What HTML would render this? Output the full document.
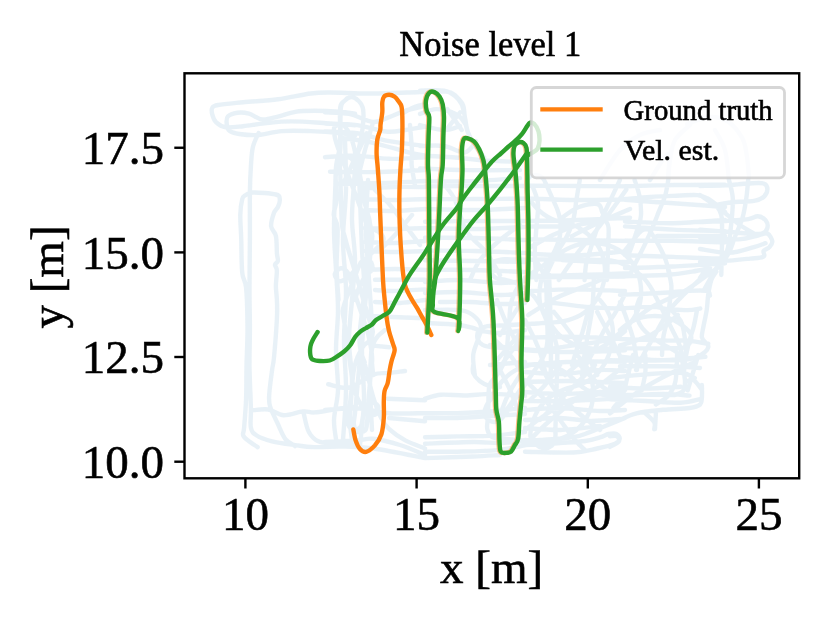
<!DOCTYPE html>
<html><head><meta charset="utf-8"><style>
html,body{margin:0;padding:0;background:#fff;width:830px;height:623px;overflow:hidden}
svg{display:block}
text{font-family:"Liberation Serif","Times New Roman",serif;fill:#000;stroke:#000;stroke-width:0.6px}
</style></head><body>
<svg width="830" height="623" viewBox="0 0 830 623">
<rect width="830" height="623" fill="#fff"/>
<g id="plot">
<path d="M455.2,95.4C453.6,94.8 453.6,92.1 445.6,91.6C437.6,91.1 419.9,92.2 407.0,92.5C394.1,92.8 381.3,93.5 368.5,93.5C355.7,93.5 339.6,92.5 330.0,92.5C320.4,92.5 319.3,92.4 310.6,93.5C301.9,94.6 289.1,97.8 277.9,99.3C266.7,100.8 253.2,101.2 243.2,102.2C233.2,103.2 223.2,104.0 218.1,105.0C212.9,106.0 213.3,106.3 212.3,107.9C211.3,109.5 211.7,112.3 212.3,114.7C213.0,117.1 213.9,120.3 216.2,122.4C218.4,124.5 221.3,126.6 225.8,127.2C230.3,127.8 236.8,126.8 243.2,126.2C249.6,125.6 256.4,124.2 264.4,123.4C272.4,122.6 280.4,121.4 291.3,121.4C302.2,121.4 319.3,122.8 329.9,123.4C340.5,124.1 350.8,125.0 355.0,125.3 M455.2,95.4C456.5,97.0 461.4,101.2 463.0,105.0C464.6,108.8 464.2,114.2 464.9,118.5C465.6,122.8 465.7,126.4 467.3,130.8C468.9,135.2 471.8,140.8 474.6,145.2C477.4,149.6 482.6,155.3 484.2,157.3 M355.0,113.7C352.4,113.4 346.2,112.3 339.5,111.8C332.8,111.3 321.9,110.8 314.5,110.8C307.1,110.8 301.3,110.8 295.2,111.8C289.1,112.8 283.4,115.3 277.9,116.6C272.4,117.9 267.2,120.0 262.4,119.5C257.6,119.0 253.2,114.8 249.0,113.7C244.8,112.6 240.9,112.3 237.4,112.8C233.9,113.3 229.6,114.7 227.8,116.6C226.0,118.5 226.5,121.9 226.8,124.3C227.1,126.7 227.6,129.5 229.7,131.1C231.8,132.7 234.5,133.3 239.3,134.0C244.1,134.7 251.5,135.5 258.6,135.0C265.7,134.5 273.0,131.8 281.7,131.1C290.4,130.4 301.0,130.8 310.6,131.1C320.2,131.4 332.1,132.2 339.5,133.0C346.9,133.8 352.4,135.4 355.0,135.9 M258.6,133.0C257.6,135.4 254.1,141.8 252.8,147.4C251.5,153.0 251.4,159.3 250.9,166.7C250.4,174.1 250.1,179.8 249.9,191.7C249.7,203.5 250.0,221.4 249.9,237.8C249.8,254.2 249.5,274.9 249.5,290.0C249.5,305.1 249.9,315.7 249.9,328.5C249.9,341.3 249.3,353.7 249.5,367.0C249.7,380.3 250.7,398.4 250.9,408.5C251.1,418.6 249.9,423.3 250.9,427.8C251.9,432.3 253.2,433.2 256.7,435.5C260.2,437.8 265.7,439.7 272.1,441.3C278.5,442.9 288.1,444.1 295.2,445.1C302.3,446.1 304.5,446.9 314.5,447.1C324.5,447.3 348.2,446.3 355.0,446.1 M257.6,447.1C256.2,446.1 251.4,443.2 249.0,441.3C246.6,439.4 244.0,437.8 243.2,435.5C242.4,433.2 243.6,433.9 244.1,427.8C244.6,421.7 245.7,409.0 246.1,398.9C246.5,388.8 246.3,378.8 246.5,367.0C246.7,355.2 247.6,341.2 247.5,328.0C247.4,314.8 247.0,297.1 246.1,287.9C245.2,278.6 243.0,280.9 242.2,272.5C241.4,264.1 241.5,247.4 241.2,237.8C240.9,228.2 240.1,221.1 240.3,214.7C240.5,208.3 241.4,202.5 242.2,199.3C243.0,196.1 243.3,196.5 245.1,195.4C246.9,194.3 247.7,192.7 252.8,192.5C257.9,192.3 271.4,193.4 275.9,194.5C280.4,195.6 279.5,197.2 279.8,199.3C280.1,201.4 278.9,204.8 277.9,207.0C276.9,209.2 275.1,209.6 274.0,212.8C272.9,216.0 270.8,222.3 271.1,226.2C271.4,230.0 274.9,231.4 275.9,235.9C276.9,240.4 276.6,249.0 276.9,253.2C277.2,257.4 278.2,259.0 277.9,260.9C277.6,262.8 275.2,263.2 275.0,264.8C274.8,266.4 276.8,267.1 276.9,270.6C277.0,274.1 275.9,281.1 275.9,286.0C275.9,290.9 276.7,294.5 276.9,300.0C277.1,305.5 277.4,309.3 276.9,318.9C276.4,328.5 274.8,348.9 274.0,357.4C273.2,365.9 272.9,363.7 272.1,370.0C271.3,376.3 269.5,388.9 269.2,395.0C268.9,401.1 268.7,401.8 270.1,406.6C271.6,411.4 275.3,418.5 277.9,424.0C280.5,429.5 282.7,435.7 285.6,439.4C288.5,443.1 293.6,445.0 295.2,446.1 M250.9,410.5C253.8,410.3 262.8,408.7 268.2,409.5C273.6,410.3 277.8,415.0 283.6,415.3C289.4,415.6 297.8,411.9 302.9,411.4C308.0,410.9 309.4,412.7 314.5,412.4C319.6,412.1 326.9,410.5 333.7,409.5C340.4,408.5 351.4,407.1 355.0,406.6 M303.9,414.3C304.7,417.2 306.3,427.2 308.7,431.7C311.1,436.2 314.1,439.4 318.3,441.3C322.5,443.2 327.6,442.7 333.7,443.2C339.8,443.7 351.4,444.0 355.0,444.2 M347.2,98.3C346.2,99.4 342.5,101.6 341.4,105.0C340.3,108.4 340.6,111.4 340.5,118.5C340.4,125.6 340.8,140.3 340.5,147.4C340.2,154.5 339.3,156.1 338.5,160.9C337.7,165.7 336.0,169.8 335.7,176.3C335.4,182.8 336.9,193.6 336.6,200.0C336.3,206.4 333.5,210.0 333.7,214.7C333.9,219.4 337.1,219.5 337.6,228.2C338.1,236.9 336.5,254.7 336.6,266.7C336.8,278.7 338.2,294.4 338.5,300.0 M335.4,185.0C335.5,181.7 335.5,171.3 336.2,165.3C336.9,159.3 338.7,154.5 339.4,149.2C340.1,143.8 340.1,140.1 340.2,133.2C340.3,126.2 339.5,112.9 340.2,107.5C340.9,102.1 342.4,102.8 344.3,101.0C346.2,99.2 349.1,97.0 351.5,97.0C353.9,97.0 356.8,99.2 358.7,101.0C360.6,102.8 361.9,104.8 362.7,107.5C363.5,110.2 363.6,112.8 363.5,117.1C363.4,121.4 362.7,127.8 361.9,133.2C361.1,138.5 359.8,143.8 358.7,149.2C357.6,154.5 356.3,159.3 355.5,165.3C354.7,171.3 354.5,175.9 353.9,185.0C353.3,194.1 351.8,207.5 352.0,220.0C352.2,232.5 355.0,246.7 355.0,260.0C355.0,273.3 353.0,286.7 352.0,300.0C351.0,313.3 349.0,326.7 349.0,340.0C349.0,353.3 351.8,366.7 352.0,380.0C352.2,393.3 349.8,408.8 350.0,420.0C350.2,431.2 352.5,442.5 353.0,447.0 M335.4,185.0C335.2,192.5 333.9,215.8 334.0,230.0C334.1,244.2 335.3,256.7 336.0,270.0C336.7,283.3 338.0,296.7 338.0,310.0C338.0,323.3 336.0,336.7 336.0,350.0C336.0,363.3 338.3,378.3 338.0,390.0C337.7,401.7 334.2,410.8 334.0,420.0C333.8,429.2 336.5,440.8 337.0,445.0 M345.0,140.0C345.2,148.3 346.3,173.3 346.0,190.0C345.7,206.7 343.0,223.3 343.0,240.0C343.0,256.7 345.8,273.3 346.0,290.0C346.2,306.7 344.0,323.3 344.0,340.0C344.0,356.7 346.2,373.3 346.0,390.0C345.8,406.7 343.5,431.7 343.0,440.0 M358.0,150.0C358.3,158.3 359.3,183.3 360.0,200.0C360.7,216.7 361.2,233.3 362.0,250.0C362.8,266.7 365.0,283.3 365.0,300.0C365.0,316.7 362.2,333.3 362.0,350.0C361.8,366.7 364.3,384.2 364.0,400.0C363.7,415.8 360.7,437.5 360.0,445.0 M368.0,180.0C367.7,188.3 365.8,213.3 366.0,230.0C366.2,246.7 368.0,263.3 369.0,280.0C370.0,296.7 371.8,313.3 372.0,330.0C372.2,346.7 370.0,363.3 370.0,380.0C370.0,396.7 371.7,421.7 372.0,430.0 M530.0,185.6C538.3,185.7 563.3,185.9 580.0,186.0C596.7,186.1 621.7,186.3 630.0,186.4 M530.0,198.5C538.0,198.8 561.5,199.9 578.2,200.0C594.9,200.1 621.4,199.4 630.0,199.3 M530.0,221.0C538.0,220.8 561.3,220.6 578.0,220.0C594.7,219.4 621.3,218.1 630.0,217.7 M571.7,236.2C576.4,233.8 590.3,226.5 600.0,222.0C609.7,217.5 625.0,211.2 630.0,209.0 M530.0,226.5 L570.0,226.5 M530.0,239.4C538.3,239.5 563.3,239.7 580.0,240.0C596.7,240.3 621.7,240.8 630.0,241.0 M530.0,253.8C538.0,254.1 561.3,255.9 578.0,255.4C594.7,254.9 621.3,251.4 630.0,250.6 M562.0,260.0C568.3,260.3 588.7,261.7 600.0,262.0C611.3,262.3 625.0,261.9 630.0,261.9 M530.0,276.3C538.3,276.1 563.3,275.5 580.0,275.0C596.7,274.5 621.7,273.4 630.0,273.1 M579.8,180.0C579.2,183.2 577.6,192.6 576.5,199.3C575.4,206.0 574.9,213.8 573.3,220.0C571.7,226.2 569.6,230.8 566.9,236.2C564.2,241.6 560.2,246.8 557.3,252.2C554.4,257.6 551.4,263.7 549.3,268.3C547.1,272.9 545.2,278.1 544.4,280.0 M619.9,180.0C617.8,184.6 610.8,199.3 607.0,207.3C603.2,215.3 600.1,221.5 597.4,228.2C594.7,234.9 592.9,241.5 591.0,247.4C589.1,253.3 587.3,258.1 586.2,263.5C585.1,268.9 584.9,277.2 584.6,280.0 M533.2,188.0C534.0,190.7 537.5,197.3 538.0,204.0C538.5,210.7 536.9,220.2 536.4,228.2C535.9,236.2 534.8,243.6 534.8,252.2C534.8,260.8 536.1,275.4 536.4,280.0 M558.9,220.0C562.1,217.9 571.8,210.0 578.2,207.3C584.6,204.6 593.4,203.2 597.4,204.0C601.4,204.8 600.9,209.3 602.2,212.0C603.5,214.7 604.3,217.3 605.4,220.0C606.5,222.7 608.2,223.2 608.6,228.2C609.0,233.2 608.3,241.4 608.0,250.0C607.7,258.6 607.2,275.0 607.0,280.0 M530.0,247.4C534.0,245.3 546.0,238.3 554.0,234.6C562.0,230.9 570.3,227.1 578.0,225.0C585.7,222.9 596.3,222.5 600.0,222.0 M558.9,280.0C562.1,275.4 572.3,260.0 578.2,252.2C584.1,244.4 588.9,239.7 594.2,233.0C599.6,226.3 604.9,219.2 610.3,212.0C615.6,204.8 623.6,193.3 626.3,189.6 M625.0,186.2C633.3,186.0 658.3,185.3 675.0,185.0C691.7,184.7 716.7,184.7 725.0,184.6 M625.0,199.0C629.2,198.7 642.0,197.5 650.0,197.0C658.0,196.5 665.3,196.2 673.2,195.9C681.1,195.6 691.3,194.6 697.2,195.1C703.1,195.6 704.5,196.7 708.5,199.0C712.5,201.3 718.5,206.5 721.3,208.7C724.0,210.8 724.4,211.4 725.0,211.9 M625.0,199.9C632.5,200.4 656.7,202.1 670.0,203.0C683.3,203.9 695.8,204.8 705.0,205.5C714.2,206.2 721.7,206.8 725.0,207.0 M625.0,221.5C633.0,221.8 656.5,223.4 673.2,223.2C689.9,222.9 716.4,220.5 725.0,220.0 M625.0,226.4C633.0,226.9 656.5,228.8 673.2,229.6C689.9,230.4 716.4,230.9 725.0,231.2 M657.1,236.0C662.6,236.0 678.7,236.0 690.0,236.0C701.3,236.0 719.2,236.0 725.0,236.0 M625.0,240.8C633.0,240.8 656.5,240.5 673.2,240.8C689.9,241.1 716.4,242.1 725.0,242.4 M625.0,255.3C633.0,255.6 658.2,256.4 673.2,256.9C688.2,257.4 706.3,258.5 714.9,258.5C723.5,258.5 723.3,257.2 725.0,256.9 M625.0,268.1C633.0,267.8 656.5,267.3 673.2,266.5C689.9,265.7 716.4,263.8 725.0,263.3 M668.3,179.8C667.8,182.5 666.7,190.6 665.1,195.9C663.5,201.2 660.8,206.6 658.7,211.9C656.6,217.2 654.7,222.4 652.3,228.0C649.9,233.6 647.2,239.4 644.3,245.6C641.3,251.8 637.0,260.0 634.6,264.9C632.2,269.8 630.6,273.3 629.8,275.0 M634.6,179.8C635.4,182.5 638.3,190.0 639.4,195.9C640.5,201.8 641.3,209.8 641.0,215.1C640.7,220.4 639.4,222.7 637.8,228.0C636.2,233.3 633.0,242.6 631.4,247.2C629.8,251.8 628.7,254.0 628.2,255.3 M625.0,250.4C627.7,247.2 637.0,234.7 641.0,231.2C645.0,227.7 647.8,229.9 649.1,229.6 M649.1,229.6C650.4,231.7 654.4,237.6 657.1,242.4C659.8,247.2 663.0,253.1 665.1,258.5C667.2,263.9 669.2,272.2 670.0,275.0 M714.9,203.9C716.0,205.8 720.1,209.1 721.3,215.1C722.5,221.1 722.0,230.0 722.0,240.0C722.0,250.0 721.4,269.2 721.3,275.0 M700.0,186.0C704.2,185.9 717.0,185.8 725.0,185.4C733.0,185.0 741.8,183.8 748.2,183.5C754.6,183.2 760.4,182.5 763.6,183.5C766.8,184.5 767.4,187.1 767.4,189.3C767.4,191.6 765.8,195.1 763.6,197.0C761.4,198.9 758.8,200.0 754.0,200.8C749.2,201.6 741.5,201.3 735.0,202.0C728.5,202.7 718.3,204.5 715.0,205.0 M700.0,222.0C704.2,221.8 717.0,221.5 725.0,221.0C733.0,220.5 742.7,219.9 748.2,219.1C753.7,218.3 754.9,216.0 757.8,216.2C760.7,216.4 763.9,218.2 765.5,220.1C767.1,222.0 768.0,225.6 767.4,227.8C766.8,230.1 764.9,232.6 761.7,233.6C758.5,234.6 753.5,233.9 748.2,233.6C742.9,233.3 738.0,232.7 730.0,232.0C722.0,231.3 705.0,230.1 700.0,229.7 M700.0,237.4C706.4,237.7 728.9,239.7 738.5,239.4C748.1,239.1 753.0,236.5 757.8,235.5C762.6,234.5 765.0,232.6 767.4,233.6C769.8,234.6 772.0,239.1 772.3,241.3C772.6,243.6 770.8,245.5 769.4,247.1C768.0,248.7 764.6,249.3 763.6,250.9C762.6,252.5 765.9,255.4 763.6,256.7C761.4,258.0 755.9,258.0 750.1,258.6C744.3,259.2 737.2,260.0 728.9,260.6C720.5,261.2 704.8,261.8 700.0,262.0 M700.0,249.0C704.8,249.7 719.9,253.2 728.9,252.9C737.9,252.6 747.9,248.7 754.0,247.1C760.1,245.5 763.6,243.8 765.5,243.2 M700.0,195.0C703.2,197.2 712.9,203.7 719.3,208.5C725.7,213.3 732.7,219.8 738.5,224.0C744.3,228.2 751.4,232.0 754.0,233.6 M728.9,179.6C729.5,182.8 732.5,190.9 732.8,198.9C733.1,206.9 731.8,219.1 730.8,227.8C729.8,236.5 729.2,244.5 727.0,250.9C724.8,257.3 720.2,261.5 717.3,266.3C714.4,271.1 711.8,275.9 709.6,279.8C707.4,283.8 704.9,288.3 703.9,290.0 M748.2,179.6C747.9,182.8 747.2,192.5 746.2,198.9C745.2,205.3 744.3,211.8 742.4,218.2C740.5,224.6 737.0,231.6 734.7,237.4C732.5,243.2 731.5,248.1 728.9,252.9C726.3,257.7 722.2,263.1 719.3,266.3C716.4,269.5 712.9,271.1 711.6,272.0 M711.6,260.6 L700.0,277.9 M525.0,277.4C533.3,277.3 558.3,277.1 575.0,277.0C591.7,276.9 616.7,276.7 625.0,276.6 M531.4,291.0C538.4,290.7 557.6,289.4 573.2,289.4C588.8,289.4 616.4,290.7 625.0,291.0 M549.1,302.3C555.8,303.1 576.6,306.0 589.2,307.1C601.9,308.2 619.0,308.4 625.0,308.7 M528.2,315.1C533.0,312.2 546.9,302.6 557.1,297.5C567.3,292.4 582.1,287.5 589.2,284.6C596.4,281.7 598.2,280.8 600.0,280.0 M525.0,337.6C533.0,337.5 556.5,336.5 573.2,336.8C589.9,337.1 616.4,338.8 625.0,339.2 M525.0,350.4C533.0,350.7 556.5,352.0 573.2,352.0C589.9,352.0 616.4,350.7 625.0,350.4 M525.0,364.9C533.0,364.4 556.5,362.2 573.2,361.7C589.9,361.2 616.4,361.7 625.0,361.7 M549.1,275.0C549.2,279.2 549.7,289.2 550.0,300.0C550.3,310.8 550.9,327.5 551.0,340.0C551.1,352.5 550.8,369.2 550.7,375.0 M553.9,311.9C556.0,314.6 562.4,322.4 566.7,328.0C571.0,333.6 575.3,339.5 579.6,345.6C583.9,351.8 589.5,360.0 592.4,364.9C595.3,369.8 596.4,373.3 597.2,375.0 M589.2,307.1C588.1,311.1 584.9,324.0 582.8,331.2C580.7,338.4 578.2,344.8 576.4,350.4C574.6,356.0 572.7,362.6 572.0,365.0 M594.0,275.0C593.7,280.4 593.5,296.9 592.4,307.1C591.3,317.3 588.9,328.0 587.6,336.0C586.3,344.0 585.3,348.8 584.4,355.3C583.5,361.8 582.4,371.7 582.0,375.0 M625.0,294.3C623.3,297.5 618.2,307.9 614.9,313.5C611.6,319.1 608.5,322.4 605.3,328.0C602.1,333.6 598.8,341.1 595.6,347.2C592.4,353.3 587.6,361.9 586.0,364.9 M597.2,311.9C599.6,316.4 607.7,331.4 611.7,339.2C615.7,347.0 619.7,355.3 621.3,358.5 M525.0,320.0C526.6,323.2 531.9,333.3 534.6,339.2C537.3,345.1 539.1,349.3 541.0,355.3C542.9,361.3 545.1,371.7 545.9,375.0 M565.1,375.0C569.1,371.7 580.9,361.3 589.2,355.3C597.5,349.3 608.9,343.2 614.9,339.2C620.9,335.2 623.3,332.5 625.0,331.2 M620.0,276.4C628.0,276.1 656.2,275.6 668.2,274.8C680.2,274.0 685.2,272.7 692.2,271.6C699.2,270.5 707.0,268.6 710.0,268.0 M716.3,271.6C715.5,272.9 712.8,275.9 711.5,279.6C710.2,283.4 709.1,289.0 708.3,294.1C707.5,299.2 707.5,304.8 706.7,310.1C705.9,315.5 704.3,321.6 703.5,326.2C702.7,330.8 701.4,334.5 701.9,337.4C702.4,340.3 705.6,342.2 706.7,343.8C707.8,345.4 708.6,345.6 708.3,347.0C708.0,348.4 707.0,350.3 705.1,351.9C703.2,353.5 700.5,355.4 697.0,356.7C693.5,358.0 691.7,359.4 684.2,359.9C676.7,360.4 662.8,360.4 652.1,359.9C641.4,359.4 625.4,357.2 620.0,356.7 M620.0,294.9C628.0,294.5 657.0,293.2 668.2,292.5C679.4,291.8 681.0,291.2 687.4,290.9C693.8,290.6 703.0,290.1 706.7,290.9C710.5,291.7 709.4,294.9 709.9,295.7 M620.0,308.5C625.4,308.2 644.1,306.8 652.1,306.9C660.1,307.0 662.3,308.8 668.2,309.3C674.1,309.8 682.0,310.2 687.4,310.1C692.8,310.0 698.1,308.8 700.3,308.5 M620.0,339.0C628.0,339.3 657.0,340.3 668.2,340.6C679.4,340.9 680.7,340.1 687.4,340.6C694.1,341.1 704.8,343.3 708.3,343.8 M620.0,366.3C628.0,366.3 654.9,366.0 668.2,366.3C681.5,366.6 694.7,367.7 700.0,368.0 M709.9,270.0C705.6,274.0 691.2,287.2 684.2,294.1C677.2,301.1 673.0,305.0 668.2,311.7C663.4,318.4 659.3,327.2 655.3,334.2C651.3,341.2 647.3,347.5 644.1,353.5C640.9,359.5 637.4,367.2 636.1,370.0 M668.2,270.0C668.7,272.7 671.1,280.6 671.4,286.0C671.7,291.4 670.6,295.9 669.8,302.1C669.0,308.3 667.6,317.1 666.5,323.0C665.4,328.9 664.0,332.1 663.3,337.4C662.5,342.7 662.2,352.1 662.0,355.0 M639.3,298.9C638.8,301.0 635.8,307.1 636.1,311.7C636.4,316.2 638.2,321.9 640.9,326.2C643.6,330.5 648.1,334.2 652.1,337.4C656.1,340.6 660.6,342.7 664.9,345.4C669.2,348.1 674.6,350.0 677.8,353.5C681.0,357.0 683.1,364.2 684.2,366.3 M620.0,302.1C621.1,304.8 624.3,312.3 626.4,318.2C628.5,324.1 631.2,331.0 632.8,337.4C634.4,343.8 635.4,351.3 636.1,356.7C636.8,362.1 636.9,367.8 637.0,370.0 M671.4,310.1C673.0,312.0 678.9,317.4 681.0,321.4C683.1,325.4 683.4,329.4 684.2,334.2C685.0,339.0 685.8,344.3 685.8,350.3C685.8,356.3 684.5,366.7 684.2,370.0 M697.0,310.1C696.5,312.8 695.1,320.9 693.8,326.2C692.5,331.5 690.3,337.1 689.0,342.2C687.7,347.3 686.3,354.3 685.8,356.7 M620.0,331.0C622.7,328.9 630.8,322.2 636.1,318.2C641.5,314.2 646.8,310.1 652.1,306.9C657.5,303.7 662.3,301.8 668.2,298.9C674.1,296.0 680.5,293.6 687.4,289.3C694.3,285.0 706.1,275.9 709.9,273.2 M620.0,345.4C622.7,344.6 630.8,342.5 636.1,340.6C641.5,338.7 646.8,337.1 652.1,334.2C657.5,331.3 663.9,326.2 668.2,323.0C672.5,319.8 676.2,316.2 677.8,314.9 M525.0,451.7C533.0,451.8 561.2,453.0 573.2,452.5C585.2,452.0 590.2,450.0 597.2,448.5C604.2,447.0 611.1,445.3 614.9,443.7C618.6,442.1 619.4,440.4 619.7,438.8C620.0,437.2 618.4,434.8 616.5,434.0C614.6,433.2 611.2,433.5 608.5,434.0C605.8,434.5 604.3,436.0 600.4,437.2C596.5,438.4 591.7,440.0 585.0,441.0C578.3,442.0 570.0,442.3 560.0,443.0C550.0,443.7 530.8,444.7 525.0,445.0 M625.0,418.0C621.7,419.3 611.3,423.6 605.3,426.0C599.3,428.4 594.6,430.5 589.2,432.4C583.9,434.3 581.4,435.9 573.2,437.2C565.0,438.5 548.0,439.5 540.0,440.0C532.0,440.5 527.5,440.0 525.0,440.0 M525.0,372.0C530.8,372.3 547.5,374.3 560.0,374.0C572.5,373.7 589.2,370.5 600.0,370.0C610.8,369.5 620.8,370.8 625.0,371.0 M525.0,382.0C532.5,381.8 553.3,380.8 570.0,381.0C586.7,381.2 615.8,382.7 625.0,383.0 M525.0,392.0C530.8,392.3 547.5,394.0 560.0,394.0C572.5,394.0 589.2,392.7 600.0,392.0C610.8,391.3 620.8,390.3 625.0,390.0 M525.0,401.0C532.5,401.0 553.3,401.5 570.0,401.0C586.7,400.5 615.8,398.5 625.0,398.0 M525.0,410.0C530.8,409.7 547.5,407.8 560.0,408.0C572.5,408.2 589.2,410.7 600.0,411.0C610.8,411.3 620.8,410.2 625.0,410.0 M525.0,420.0C530.8,419.7 549.2,417.8 560.0,418.0C570.8,418.2 580.0,420.8 590.0,421.0C600.0,421.2 615.0,419.3 620.0,419.0 M525.0,428.0C530.8,428.3 547.5,430.3 560.0,430.0C572.5,429.7 593.3,426.7 600.0,426.0 M525.0,380.0C528.3,383.3 539.2,393.3 545.0,400.0C550.8,406.7 555.0,413.3 560.0,420.0C565.0,426.7 570.8,435.0 575.0,440.0C579.2,445.0 583.3,448.3 585.0,450.0 M540.0,365.0C542.5,369.2 549.2,382.5 555.0,390.0C560.8,397.5 567.5,403.3 575.0,410.0C582.5,416.7 595.8,426.7 600.0,430.0 M580.0,365.0C583.3,368.3 592.5,379.2 600.0,385.0C607.5,390.8 620.8,397.5 625.0,400.0 M625.0,365.0C620.8,368.3 608.3,379.2 600.0,385.0C591.7,390.8 584.2,393.3 575.0,400.0C565.8,406.7 552.5,418.3 545.0,425.0C537.5,431.7 532.5,437.5 530.0,440.0 M595.0,365.0C591.7,368.3 580.8,379.2 575.0,385.0C569.2,390.8 565.8,394.2 560.0,400.0C554.2,405.8 543.3,416.7 540.0,420.0 M560.0,365.0C557.5,368.3 550.0,379.2 545.0,385.0C540.0,390.8 532.5,397.5 530.0,400.0 M525.0,430.0C528.3,427.5 537.5,420.0 545.0,415.0C552.5,410.0 561.7,403.3 570.0,400.0C578.3,396.7 585.8,397.0 595.0,395.0C604.2,393.0 620.0,389.2 625.0,388.0 M645.3,413.3C646.8,414.8 652.7,419.5 654.2,422.1C655.7,424.8 654.2,428.0 654.2,429.2 M655.9,413.3 L655.0,429.0 M701.9,385.0C701.9,387.1 702.2,394.1 701.9,397.4C701.6,400.6 702.2,402.7 700.1,404.5C698.0,406.3 695.7,407.1 689.5,408.0C683.3,408.9 671.8,408.9 663.0,409.8C654.2,410.7 643.9,411.5 636.5,413.3C629.1,415.1 623.2,418.6 618.8,420.4C614.4,422.2 611.5,423.4 610.0,424.0 M686.0,381.5C687.2,381.2 691.0,379.1 693.0,379.7C695.0,380.3 696.8,383.3 698.3,385.0C699.8,386.7 701.3,389.2 701.9,390.0 M610.0,360.3C618.8,360.3 647.1,360.9 663.0,360.3C678.9,359.7 698.3,357.4 705.4,356.8 M610.0,378.0C615.9,377.4 633.5,375.3 645.3,374.4C657.1,373.5 672.5,372.1 680.7,372.7C689.0,373.3 692.4,377.1 694.8,378.0 M627.7,395.6C633.6,395.3 652.7,393.9 663.0,393.9C673.3,393.9 685.1,395.3 689.5,395.6 M610.0,399.2C615.9,399.5 633.5,400.4 645.3,401.0C657.1,401.6 671.6,403.0 680.7,402.7C689.8,402.4 696.9,399.8 700.1,399.2 M610.0,386.8C615.9,387.1 633.5,388.6 645.3,388.6C657.1,388.6 674.8,387.1 680.7,386.8 M633.0,355.0C632.1,358.5 629.5,369.4 627.7,376.2C625.9,383.0 624.8,390.3 622.4,395.6C620.0,400.9 615.0,405.9 613.5,408.0 M645.3,355.0C645.3,357.9 645.9,366.8 645.3,372.7C644.7,378.6 642.4,387.4 641.8,390.3 M677.1,355.0C676.8,359.4 676.9,374.7 675.4,381.5C673.9,388.3 671.5,391.8 668.3,395.6C665.0,399.4 658.0,403.0 655.9,404.5 M698.3,355.0C697.4,357.9 694.8,366.8 693.0,372.7C691.2,378.6 688.6,387.4 687.7,390.3 M610.0,413.3C613.0,410.9 621.2,403.9 627.7,399.2C634.2,394.5 641.5,389.4 648.9,385.0C656.2,380.6 664.1,376.5 671.8,372.7C679.4,368.9 691.0,363.9 694.8,362.1 M610.0,436.3C611.2,436.3 615.6,435.4 617.1,436.3C618.6,437.2 620.0,439.8 618.8,441.6C617.6,443.4 611.5,446.0 610.0,446.9 M425.0,186.4C433.3,186.3 457.5,186.1 475.0,186.0C492.5,185.9 520.8,186.0 530.0,186.0 M425.0,199.3C433.3,199.2 457.5,199.1 475.0,199.0C492.5,198.9 520.8,198.6 530.0,198.5 M425.0,209.0C433.3,209.2 458.3,210.2 475.0,210.0C491.7,209.8 516.7,208.3 525.0,208.0 M425.0,221.7C433.3,221.6 457.5,221.1 475.0,221.0C492.5,220.9 520.8,221.0 530.0,221.0 M425.0,228.0C433.3,228.2 458.3,229.2 475.0,229.0C491.7,228.8 516.7,227.3 525.0,227.0 M425.0,237.8C433.3,237.8 458.3,237.6 475.0,238.0C491.7,238.4 516.7,239.7 525.0,240.0 M425.0,250.6C433.3,250.7 457.5,250.6 475.0,251.0C492.5,251.4 520.8,252.7 530.0,253.0 M425.0,260.3C433.3,260.4 458.3,260.7 475.0,261.0C491.7,261.3 516.7,261.8 525.0,262.0 M425.0,269.9C433.3,269.9 458.3,269.6 475.0,270.0C491.7,270.4 516.7,271.7 525.0,272.0 M444.3,184.8C446.1,187.3 451.3,192.2 455.0,200.0C458.7,207.8 461.5,222.7 466.7,231.4C471.9,240.1 480.4,244.9 486.0,252.2C491.6,259.5 497.7,271.2 500.0,275.0 M470.0,280.0C471.7,276.7 475.0,266.7 480.0,260.0C485.0,253.3 493.3,245.8 500.0,240.0C506.7,234.2 516.7,227.5 520.0,225.0 M425.0,282.0C430.8,281.7 447.5,279.8 460.0,280.0C472.5,280.2 489.2,282.8 500.0,283.0C510.8,283.2 520.8,281.3 525.0,281.0 M425.0,293.0C430.8,292.8 447.5,291.7 460.0,292.0C472.5,292.3 489.2,294.8 500.0,295.0C510.8,295.2 520.8,293.3 525.0,293.0 M440.0,302.0C445.0,302.0 460.0,301.7 470.0,302.0C480.0,302.3 490.8,303.8 500.0,304.0C509.2,304.2 520.8,303.2 525.0,303.0 M425.0,310.0C431.2,310.1 453.4,308.9 462.0,310.3C470.6,311.7 473.2,315.4 476.4,318.3C479.6,321.2 480.9,324.5 481.2,328.0C481.5,331.5 479.3,334.6 478.0,339.2C476.7,343.8 473.7,349.3 473.2,355.3C472.7,361.3 474.5,371.7 474.8,375.0 M425.0,323.0C430.3,323.3 449.0,324.0 457.0,324.8C465.0,325.6 468.7,326.9 473.0,328.0C477.3,329.1 478.3,330.4 482.8,331.2C487.3,332.0 493.0,333.2 500.0,333.0C507.0,332.8 520.8,330.5 525.0,330.0 M495.0,340.0C497.5,342.5 505.8,350.0 510.0,355.0C514.2,360.0 518.3,367.5 520.0,370.0 M520.0,340.0C517.5,343.3 509.2,354.2 505.0,360.0C500.8,365.8 496.7,372.5 495.0,375.0 M497.0,300.0C498.3,303.3 502.0,313.3 505.0,320.0C508.0,326.7 512.2,334.2 515.0,340.0C517.8,345.8 520.8,352.5 522.0,355.0 M523.0,300.0C520.8,303.3 513.8,314.2 510.0,320.0C506.2,325.8 501.7,332.5 500.0,335.0 M497.0,360.0C499.2,357.5 505.7,350.0 510.0,345.0C514.3,340.0 520.8,332.5 523.0,330.0 M490.0,345.0 L525.0,350.0 M490.0,365.0 L525.0,362.0 M473.2,365.0C473.2,366.3 472.1,370.3 473.2,373.0C474.3,375.7 476.9,378.9 479.6,381.0C482.3,383.1 485.8,384.9 489.2,385.9C492.6,386.9 498.2,386.8 500.0,387.0 M425.0,398.7C427.7,398.0 434.3,395.2 441.0,394.7C447.7,394.2 456.5,395.6 465.1,395.5C473.7,395.4 482.4,393.8 492.4,393.9C502.4,394.0 519.6,395.6 525.0,396.0 M425.0,413.2C430.4,413.2 446.4,413.5 457.1,413.2C467.8,412.9 477.9,412.4 489.2,411.5C500.5,410.6 519.0,408.6 525.0,408.0 M425.0,418.0C430.4,418.0 446.3,418.3 457.1,418.0C467.9,417.7 478.7,416.7 490.0,416.0C501.3,415.3 519.2,414.3 525.0,414.0 M425.0,437.2C430.4,437.1 445.9,436.7 457.1,436.4C468.3,436.1 481.1,436.3 492.4,435.6C503.7,434.9 519.6,432.6 525.0,432.0 M425.0,443.7C433.0,443.4 460.7,442.1 473.2,442.0C485.7,441.9 491.4,443.2 500.0,443.0C508.6,442.8 520.8,441.3 525.0,441.0 M425.0,451.7C430.4,451.7 445.1,452.0 457.1,451.7C469.1,451.4 485.9,451.2 497.2,450.1C508.5,449.0 520.4,446.1 525.0,445.3 M425.0,458.1C433.0,457.8 460.7,457.0 473.2,456.5C485.7,456.0 495.5,455.2 500.0,455.0 M500.0,370.0C501.7,373.3 507.0,383.3 510.0,390.0C513.0,396.7 516.7,406.7 518.0,410.0 M520.0,375.0C518.0,378.3 511.3,388.3 508.0,395.0C504.7,401.7 501.3,411.7 500.0,415.0 M498.0,420.0C500.0,417.5 506.3,410.0 510.0,405.0C513.7,400.0 518.3,392.5 520.0,390.0 M375.0,279.8C377.4,279.8 380.9,279.8 389.2,279.8C397.5,279.8 419.0,279.8 425.0,279.8 M375.0,290.0C377.9,290.2 384.1,291.1 392.4,291.0C400.7,290.9 419.6,289.7 425.0,289.4 M375.0,302.0C379.2,302.2 391.7,303.3 400.0,303.0C408.3,302.7 420.8,300.5 425.0,300.0 M372.0,316.0C374.3,316.1 377.2,316.3 386.0,316.7C394.8,317.1 418.5,318.0 425.0,318.3 M385.0,330.0C383.8,331.0 380.0,333.7 378.0,336.0C376.0,338.3 374.3,340.8 373.2,344.0C372.1,347.2 371.5,350.1 371.5,355.3C371.5,360.5 372.9,371.7 373.2,375.0 M373.2,345.6 L389.2,347.2 M328.2,384.3C331.7,384.8 341.6,389.1 349.1,387.5C356.6,385.9 366.5,377.0 373.2,374.6C379.9,372.2 383.9,373.6 389.2,373.0C394.5,372.4 402.4,371.3 405.0,371.0 M325.0,410.0C330.4,409.7 346.4,407.8 357.1,408.3C367.8,408.8 377.9,412.4 389.2,413.2C400.5,414.0 419.0,413.2 425.0,413.2 M387.6,398.7 L425.0,400.3 M325.0,442.0C330.4,441.7 349.1,440.9 357.1,440.4C365.1,439.9 366.1,438.0 373.2,438.8C380.3,439.6 391.4,442.3 400.0,445.0C408.6,447.7 420.8,453.2 425.0,454.9 M389.2,418.0 L425.0,421.2 M365.1,365.0C366.5,370.4 370.5,388.3 373.2,397.1C375.9,405.9 378.5,412.6 381.2,418.0C383.9,423.4 385.2,425.5 389.2,429.2C393.2,432.9 399.3,437.2 405.3,440.4C411.3,443.6 421.7,447.1 425.0,448.5 M325.0,445.3C333.0,445.8 356.5,446.4 373.2,448.5C389.9,450.6 416.4,456.5 425.0,458.1 M325.0,112.3C329.0,112.6 341.1,112.3 349.1,113.9C357.1,115.5 366.5,121.4 373.2,121.9C379.9,122.4 383.8,119.0 389.2,117.1C394.6,115.2 399.3,112.6 405.3,110.7C411.3,108.8 421.7,106.7 425.0,105.9 M325.0,123.5C330.4,123.8 346.9,123.8 357.1,125.1C367.3,126.4 378.0,130.7 386.0,131.5C394.0,132.3 398.8,130.8 405.3,130.0C411.8,129.2 421.7,127.2 425.0,126.7 M325.0,131.5C330.4,131.8 346.4,131.6 357.1,133.2C367.8,134.8 377.9,139.1 389.2,141.2C400.5,143.3 419.0,145.2 425.0,146.0 M341.0,138.0C346.4,138.8 361.9,140.4 373.2,142.8C384.4,145.2 399.9,150.3 408.5,152.4C417.1,154.5 422.2,155.1 425.0,155.6 M325.0,157.2C330.4,156.9 346.4,155.3 357.1,155.6C367.8,155.9 377.9,158.5 389.2,158.8C400.5,159.1 419.0,157.5 425.0,157.2 M330.0,171.7C338.3,171.8 364.2,172.3 380.0,172.0C395.8,171.7 417.5,170.3 425.0,170.0 M337.0,184.0C344.2,183.8 365.3,183.5 380.0,183.0C394.7,182.5 417.5,181.3 425.0,181.0 M357.1,181.3C358.4,176.1 362.3,159.9 365.0,150.0C367.7,140.1 371.8,126.6 373.2,121.9 M344.3,181.3 L366.7,133.2 M410.0,125.0C410.3,129.2 411.7,143.3 412.0,150.0C412.3,156.7 411.2,159.5 411.7,165.3C412.2,171.1 414.4,181.7 414.9,185.0 M402.0,113.9C403.9,112.8 409.5,109.1 413.3,107.5C417.1,105.9 423.1,104.8 425.0,104.3 M420.0,90.6C424.0,90.6 438.2,89.7 444.1,90.6C450.0,91.5 452.4,93.9 455.3,96.2C458.2,98.5 460.1,100.8 461.7,104.3C463.3,107.8 464.1,113.4 464.9,117.1C465.7,120.8 465.9,124.0 466.5,126.7C467.1,129.4 467.9,132.1 468.2,133.2 M420.0,113.9C422.7,113.1 430.8,109.4 436.1,109.1C441.5,108.8 448.1,111.0 452.1,112.3C456.1,113.6 457.8,115.0 460.1,117.1C462.4,119.2 465.0,123.7 466.0,125.0 M420.0,125.1C424.0,125.9 437.4,129.8 444.1,130.0C450.8,130.2 457.4,126.7 460.0,126.0 M447.3,109.1 L461.7,130.0 M447.3,128.3 L460.1,112.3 M420.0,146.0C424.0,146.0 436.6,144.9 444.1,146.0C451.6,147.1 459.5,153.2 464.9,152.4C470.2,151.6 474.3,143.1 476.2,141.2 M420.0,155.6C425.4,155.9 441.4,156.4 452.1,157.2C462.8,158.0 472.9,159.6 484.2,160.4C495.5,161.2 514.0,161.7 520.0,162.0 M420.0,168.5C428.0,168.8 451.5,169.8 468.2,170.1C484.9,170.4 511.4,170.1 520.0,170.1 M420.0,181.3C428.0,181.3 451.5,181.8 468.2,181.3C484.9,180.8 511.4,178.6 520.0,178.1 M365.0,188.0C370.0,187.8 385.0,187.2 395.0,187.0C405.0,186.8 420.0,187.0 425.0,187.0 M365.0,199.0C370.0,199.2 385.0,200.0 395.0,200.0C405.0,200.0 420.0,199.2 425.0,199.0 M365.0,210.0C370.0,210.2 385.0,211.2 395.0,211.0C405.0,210.8 420.0,209.3 425.0,209.0 M365.0,228.0C370.0,228.2 385.0,229.0 395.0,229.0C405.0,229.0 420.0,228.2 425.0,228.0 M365.0,242.0C370.0,242.2 385.0,243.2 395.0,243.0C405.0,242.8 420.0,241.3 425.0,241.0 M365.0,251.0C370.0,251.2 385.0,252.0 395.0,252.0C405.0,252.0 420.0,251.2 425.0,251.0 M365.0,270.0C370.0,269.8 385.0,269.0 395.0,269.0C405.0,269.0 420.0,269.8 425.0,270.0 M375.0,190.0C377.5,192.5 385.0,199.2 390.0,205.0C395.0,210.8 400.0,218.3 405.0,225.0C410.0,231.7 417.5,241.7 420.0,245.0 M380.0,250.0C382.5,247.5 389.7,240.8 395.0,235.0C400.3,229.2 409.2,218.3 412.0,215.0 M687.0,124.0C690.8,122.8 703.2,117.4 710.0,117.0C716.8,116.6 722.7,118.2 728.0,121.7C733.3,125.2 738.9,132.4 742.0,137.7C745.1,143.0 745.3,147.1 746.5,153.7C747.7,160.2 748.6,173.1 749.0,177.0 M650.0,180.0C653.0,175.7 665.0,154.5 668.0,154.0C671.0,153.5 668.0,173.2 668.0,177.0 M668.3,179.8C668.6,176.5 668.9,166.6 670.0,160.0C671.1,153.4 671.7,145.8 675.0,140.0C678.3,134.2 687.5,127.5 690.0,125.0 M728.9,179.6C728.2,174.7 727.3,158.3 725.0,150.0C722.7,141.7 716.7,133.3 715.0,130.0 M600.0,180.0C603.3,175.0 613.3,157.5 620.0,150.0C626.7,142.5 633.3,138.3 640.0,135.0C646.7,131.7 656.7,130.8 660.0,130.0 M600.0,300.0C600.9,301.2 603.8,304.7 605.4,307.2C607.0,309.7 608.4,312.4 609.5,315.2C610.6,318.0 611.4,320.9 612.0,323.8C612.6,326.7 612.9,329.8 612.9,332.8C612.9,335.8 612.7,338.8 612.2,341.7C611.8,344.6 611.1,347.6 610.2,350.5C609.4,353.4 608.4,356.2 607.1,358.9C605.9,361.6 604.4,364.3 602.7,366.8C601.0,369.3 599.2,371.7 597.1,373.8C595.0,375.9 592.6,377.8 590.1,379.5C587.6,381.2 585.0,382.6 582.3,383.8C579.6,385.0 576.6,385.7 573.7,386.6C570.8,387.5 567.8,388.0 565.0,389.0C562.2,390.0 559.5,391.3 556.9,392.7C554.3,394.1 551.6,395.8 549.3,397.6C546.9,399.4 544.8,401.5 542.8,403.7C540.8,405.9 539.0,408.4 537.5,411.0C536.0,413.6 534.6,416.3 533.6,419.1C532.6,421.9 531.8,424.9 531.3,427.8C530.8,430.8 529.8,434.1 530.5,436.8C531.2,439.5 533.3,442.1 535.4,444.0C537.5,445.9 540.6,447.8 543.3,448.1C546.0,448.4 549.7,447.6 551.7,445.9C553.7,444.2 554.6,440.7 555.2,437.9C555.8,435.1 555.3,431.9 555.4,428.9C555.5,425.9 555.6,422.9 555.7,419.9C555.8,416.9 555.9,413.9 556.0,410.9C556.1,407.9 556.1,404.9 556.2,401.9C556.3,398.9 556.3,395.9 556.4,392.9C556.5,389.9 556.6,386.9 556.7,383.9C556.8,380.9 556.9,377.9 556.9,374.9C556.9,371.9 556.9,368.9 557.0,365.9C557.1,362.9 557.3,359.9 557.3,356.9C557.3,353.9 557.4,350.9 557.0,348.0C556.6,345.1 555.8,342.0 554.9,339.2C554.0,336.4 552.6,333.7 551.4,331.0C550.2,328.3 548.8,325.6 547.6,322.8C546.4,320.1 545.1,317.3 544.0,314.5C542.9,311.7 541.6,309.0 540.8,306.1C540.0,303.2 539.6,300.3 539.4,297.3C539.2,294.3 539.4,291.3 539.8,288.3C540.1,285.3 540.7,282.3 541.5,279.4C542.3,276.5 543.4,273.8 544.7,271.1C546.0,268.5 547.7,265.9 549.5,263.5C551.3,261.1 553.4,258.9 555.6,256.9C557.8,254.9 560.3,253.0 562.8,251.4C565.3,249.8 568.0,248.5 570.8,247.3C573.5,246.1 576.4,245.1 579.3,244.4C582.2,243.7 585.2,243.3 588.2,243.1C591.2,242.9 594.2,242.9 597.2,243.2C600.2,243.5 603.1,243.9 606.0,244.7C608.9,245.5 611.8,246.5 614.5,247.8C617.2,249.1 619.8,250.6 622.2,252.4C624.6,254.2 626.8,256.2 628.8,258.4C630.8,260.6 632.7,263.1 634.2,265.6C635.8,268.2 637.1,270.9 638.1,273.7C639.1,276.5 639.8,279.4 640.3,282.4C640.8,285.3 641.1,288.4 641.1,291.4C641.1,294.4 641.0,297.4 640.5,300.4C640.0,303.3 639.3,306.3 638.3,309.1C637.3,311.9 635.9,314.6 634.4,317.2C632.9,319.8 631.1,322.2 629.2,324.5C627.3,326.8 625.1,328.9 622.8,330.8C620.5,332.7 618.1,334.6 615.5,336.1C612.9,337.6 610.2,338.9 607.4,339.9C604.6,340.9 601.5,341.3 598.6,341.9C595.7,342.4 592.7,342.8 589.7,343.2C586.7,343.6 583.8,344.0 580.8,344.4C577.8,344.8 574.9,345.2 571.9,345.6C568.9,346.0 566.0,346.4 563.0,346.9C560.0,347.3 557.1,347.9 554.1,348.3C551.1,348.8 548.2,349.3 545.2,349.6C542.2,349.9 539.2,350.1 536.2,350.1C533.2,350.1 530.2,349.7 527.2,349.5C524.2,349.3 521.3,349.1 518.3,348.9C515.3,348.7 512.3,348.5 509.3,348.3C506.3,348.1 503.3,348.0 500.3,347.8C497.3,347.6 494.2,347.7 491.3,347.2C488.4,346.7 485.0,346.5 482.7,345.0C480.4,343.5 477.9,340.7 477.4,338.1C476.9,335.5 477.8,331.6 479.5,329.6C481.2,327.6 484.7,326.9 487.5,326.2C490.3,325.5 493.5,325.8 496.5,325.6C499.5,325.5 502.5,325.5 505.5,325.3C508.5,325.1 511.5,324.9 514.5,324.7C517.5,324.5 520.5,324.4 523.5,324.3C526.5,324.2 529.5,324.0 532.5,323.8C535.5,323.6 538.4,323.3 541.4,323.1C544.4,322.9 547.4,322.7 550.4,322.5C553.4,322.3 556.4,322.3 559.4,321.9C562.4,321.5 565.3,320.9 568.2,320.1C571.1,319.3 574.0,318.4 576.7,317.1C579.4,315.8 582.0,314.2 584.4,312.4C586.8,310.6 589.1,308.7 591.1,306.5C593.1,304.3 595.0,301.9 596.6,299.4C598.2,296.9 599.6,294.1 600.8,291.4C602.0,288.6 602.9,285.8 603.6,282.9C604.3,280.0 604.7,277.0 604.9,274.0C605.1,271.0 605.0,268.0 604.6,265.0C604.2,262.0 603.6,259.1 602.7,256.2C601.8,253.3 600.6,250.5 599.2,247.9C597.8,245.3 596.0,242.8 594.1,240.5C592.2,238.2 590.0,236.1 587.8,234.2C585.5,232.2 583.1,230.4 580.6,228.8C578.1,227.2 575.3,225.9 572.5,224.8C569.7,223.7 566.8,223.1 563.9,222.3C561.0,221.6 557.9,221.3 555.1,220.3C552.3,219.3 549.5,217.9 547.0,216.4C544.5,214.9 542.0,213.1 539.8,211.1C537.5,209.1 535.4,206.9 533.5,204.6C531.6,202.3 529.5,199.9 528.3,197.3C527.1,194.7 526.6,191.7 526.4,188.8C526.2,185.9 525.6,182.4 526.9,180.1C528.2,177.8 531.4,175.5 534.0,175.1C536.6,174.7 540.3,176.0 542.4,177.7C544.5,179.4 545.4,182.8 546.7,185.5C548.0,188.2 549.1,191.0 550.3,193.7C551.5,196.4 552.8,199.2 554.0,201.9C555.2,204.7 556.6,207.4 557.6,210.2C558.6,213.0 559.4,216.0 559.9,218.9C560.4,221.8 560.6,224.8 560.6,227.8C560.6,230.8 560.3,233.9 559.7,236.8C559.1,239.7 558.2,242.6 557.1,245.4C556.0,248.2 554.8,250.9 553.3,253.5C551.8,256.1 550.1,258.6 548.1,260.9C546.1,263.1 543.9,265.2 541.5,267.0C539.1,268.8 536.4,270.1 533.9,271.8C531.4,273.5 528.9,275.1 526.7,277.1C524.5,279.1 522.5,281.4 520.6,283.7C518.7,286.0 516.9,288.6 515.5,291.2C514.1,293.8 513.0,296.6 512.1,299.5C511.2,302.4 510.6,305.4 510.2,308.3C509.8,311.2 509.7,314.2 509.5,317.2C509.3,320.2 509.1,323.2 508.8,326.2C508.6,329.2 508.2,332.2 508.0,335.2C507.8,338.2 507.6,341.1 507.4,344.1C507.2,347.1 507.1,350.2 506.6,353.1C506.1,356.1 505.3,359.0 504.3,361.8C503.3,364.6 501.9,367.3 500.4,369.9C498.9,372.5 497.0,374.8 495.2,377.2C493.4,379.6 490.9,381.7 489.8,384.4C488.7,387.1 488.8,390.3 488.6,393.3C488.4,396.3 488.5,399.3 488.4,402.3C488.3,405.3 488.2,408.3 488.1,411.3C488.0,414.3 487.7,417.2 487.6,420.2C487.5,423.2 486.6,426.4 487.3,429.2C488.0,432.0 489.5,435.2 491.7,436.8C493.9,438.4 497.4,438.2 500.4,438.6C503.3,439.0 506.4,439.1 509.4,439.3C512.4,439.5 515.4,439.8 518.4,440.0C521.4,440.2 524.3,440.6 527.3,440.8C530.3,441.1 533.3,441.4 536.3,441.5C539.3,441.6 542.3,441.9 545.3,441.7C548.3,441.5 551.3,441.0 554.2,440.4C557.1,439.8 560.0,439.0 562.8,437.9C565.6,436.8 568.3,435.5 570.9,433.9C573.5,432.3 575.9,430.5 578.1,428.5C580.3,426.5 582.3,424.1 584.0,421.7C585.7,419.3 587.2,416.7 588.5,414.0C589.8,411.3 590.8,408.5 591.6,405.6C592.4,402.7 592.9,399.7 593.1,396.7C593.3,393.7 593.3,390.7 593.0,387.7C592.7,384.7 592.1,381.8 591.3,378.9C590.5,376.0 589.6,373.1 588.4,370.4C587.2,367.7 585.8,365.0 584.0,362.6C582.2,360.2 578.9,357.0 577.9,355.9 M620.0,330.0C621.1,329.0 624.4,325.9 626.9,324.2C629.4,322.5 632.1,321.1 634.8,319.9C637.5,318.7 640.4,317.8 643.3,317.2C646.2,316.6 649.3,316.2 652.3,316.1C655.3,316.0 658.2,316.0 661.2,316.4C664.2,316.8 667.2,317.6 670.0,318.6C672.8,319.6 675.6,321.0 678.1,322.5C680.6,324.0 683.2,325.8 685.3,327.8C687.4,329.8 690.2,332.1 690.9,334.7C691.6,337.3 691.0,341.2 689.6,343.4C688.2,345.6 684.9,347.2 682.2,348.0C679.5,348.8 676.2,348.1 673.2,348.2C670.2,348.3 667.2,348.4 664.2,348.4C661.2,348.4 658.2,348.4 655.2,348.4C652.2,348.4 649.2,348.3 646.2,348.3C643.2,348.3 640.2,348.4 637.2,348.4C634.2,348.4 631.2,348.4 628.2,348.4C625.2,348.4 622.2,348.4 619.2,348.4C616.2,348.4 613.2,348.6 610.2,348.6C607.2,348.6 604.2,348.6 601.2,348.6C598.2,348.6 595.2,348.8 592.2,348.6C589.2,348.4 586.2,347.9 583.3,347.2C580.4,346.5 577.5,345.7 574.7,344.6C571.9,343.5 569.2,342.0 566.7,340.4C564.2,338.8 561.7,337.1 559.5,335.1C557.3,333.1 555.4,330.7 553.6,328.3C551.8,325.9 550.4,323.3 548.9,320.7C547.4,318.1 545.9,315.4 544.4,312.8C542.9,310.2 541.6,307.6 540.0,305.0C538.4,302.4 536.9,299.8 535.0,297.5C533.1,295.2 531.0,293.1 528.7,291.1C526.5,289.2 524.1,287.3 521.5,285.8C518.9,284.3 516.1,283.0 513.3,282.0C510.5,281.0 507.5,280.4 504.6,279.7C501.7,279.0 498.2,279.5 495.9,278.0C493.6,276.5 491.3,273.4 490.9,270.8C490.5,268.2 491.6,264.4 493.4,262.5C495.2,260.6 498.7,259.8 501.6,259.3C504.5,258.8 507.6,259.4 510.6,259.4C513.6,259.4 516.6,259.4 519.6,259.5C522.6,259.6 525.6,259.7 528.6,259.7C531.6,259.7 534.6,259.5 537.6,259.5C540.6,259.5 543.6,259.5 546.6,259.5C549.6,259.5 552.6,259.4 555.6,259.4C558.6,259.4 561.6,259.5 564.6,259.5C567.6,259.5 570.6,259.5 573.6,259.5C576.6,259.5 579.6,259.6 582.6,259.6C585.6,259.7 588.6,259.8 591.6,259.8C594.6,259.9 597.6,259.8 600.6,259.9C603.6,259.9 606.5,259.7 609.5,260.1C612.5,260.5 615.5,261.2 618.3,262.2C621.1,263.1 623.8,264.5 626.5,265.8C629.2,267.1 631.9,268.5 634.4,270.2C636.9,271.9 639.2,273.8 641.4,275.9C643.6,277.9 645.6,280.1 647.4,282.5C649.2,284.9 650.8,287.4 652.3,290.0C653.8,292.6 655.0,295.4 656.4,298.1C657.8,300.8 659.1,303.4 660.5,306.1C661.9,308.8 663.2,311.5 664.5,314.2C665.8,316.9 667.2,319.5 668.5,322.2C669.8,324.9 671.2,327.6 672.5,330.3C673.8,333.0 675.2,335.6 676.5,338.3C677.8,341.0 679.1,343.8 680.0,346.6C680.9,349.5 681.3,352.4 681.8,355.4C682.3,358.3 682.4,361.3 682.8,364.3C683.2,367.3 683.6,370.3 684.0,373.3C684.4,376.3 685.1,379.3 685.0,382.2C684.9,385.1 684.9,388.6 683.3,390.7C681.7,392.8 678.3,394.1 675.5,394.8C672.7,395.5 669.5,394.7 666.5,394.7C663.5,394.7 660.5,394.7 657.5,394.7C654.5,394.7 651.5,394.8 648.5,394.8C645.5,394.8 642.5,394.9 639.5,394.9C636.5,394.9 633.5,395.0 630.5,395.0C627.5,395.0 624.5,395.0 621.5,395.0C618.5,395.0 615.5,395.1 612.5,395.1C609.5,395.1 606.5,395.2 603.5,394.9C600.5,394.6 597.6,394.1 594.7,393.2C591.9,392.3 589.0,391.1 586.4,389.7C583.8,388.2 581.4,386.4 579.1,384.5C576.8,382.6 574.8,380.2 572.6,378.2C570.4,376.2 568.2,374.1 565.7,372.5C563.2,370.9 560.5,369.5 557.8,368.3C555.0,367.1 552.1,366.2 549.2,365.5C546.3,364.8 543.3,364.4 540.3,364.3C537.3,364.2 534.2,364.3 531.3,364.8C528.3,365.3 525.4,366.1 522.6,367.1C519.8,368.1 517.0,369.3 514.4,370.8C511.8,372.3 509.4,374.1 507.2,376.1C505.0,378.1 502.8,380.2 501.0,382.6C499.2,385.0 497.8,387.6 496.2,390.2C494.6,392.8 493.3,395.5 491.7,398.0C490.1,400.5 487.8,402.7 486.6,405.3C485.4,407.9 483.9,411.1 484.4,413.7C484.9,416.3 487.3,419.6 489.6,420.8C491.9,422.0 495.9,422.1 498.4,421.1C500.9,420.1 502.8,417.2 504.7,414.9C506.6,412.6 508.1,410.0 509.8,407.5C511.5,405.0 513.0,402.5 514.7,400.0C516.4,397.5 518.2,395.1 519.9,392.6C521.6,390.1 523.1,387.6 524.8,385.1C526.4,382.6 528.1,380.1 529.8,377.6C531.5,375.1 533.1,372.6 534.8,370.1C536.5,367.6 538.4,365.2 540.0,362.7C541.6,360.1 543.1,357.6 544.2,354.8C545.3,352.1 546.2,349.1 546.8,346.2C547.4,343.3 547.5,340.2 547.6,337.2C547.7,334.2 547.5,331.2 547.4,328.2C547.3,325.2 547.2,322.2 547.2,319.2C547.2,316.2 547.2,313.2 547.1,310.2C547.0,307.2 546.8,304.3 546.7,301.3C546.6,298.3 546.6,295.3 546.5,292.3C546.4,289.3 546.4,286.2 545.9,283.3C545.4,280.4 544.7,277.4 543.7,274.6C542.7,271.8 541.4,269.0 539.9,266.4C538.4,263.8 535.6,260.3 534.8,259.1 M355.0,300.0C355.4,298.6 356.5,294.2 357.5,291.4C358.5,288.6 359.7,285.8 361.1,283.1C362.5,280.5 364.0,277.8 365.9,275.5C367.8,273.2 371.5,271.8 372.2,269.4C372.9,267.0 372.0,262.5 370.3,261.2C368.6,259.9 364.0,260.0 361.9,261.3C359.8,262.6 359.0,266.5 357.8,269.2C356.6,271.9 355.7,274.8 354.6,277.6C353.5,280.4 352.3,283.2 351.2,286.0C350.1,288.8 349.0,291.6 347.9,294.4C346.8,297.2 345.6,300.0 344.7,302.8C343.8,305.6 342.8,308.4 342.7,311.3C342.6,314.2 343.6,317.2 344.0,320.2C344.4,323.2 344.9,326.1 345.3,329.1C345.7,332.1 346.2,335.0 346.6,338.0C347.0,341.0 347.3,344.0 347.7,347.0C348.1,350.0 348.6,352.9 349.0,355.9C349.4,358.9 349.8,361.8 350.2,364.8C350.6,367.8 351.1,370.7 351.5,373.7C351.9,376.7 352.1,379.7 352.7,382.6C353.3,385.5 354.0,388.5 354.9,391.3C355.8,394.1 356.9,397.0 358.2,399.7C359.5,402.4 360.9,405.1 362.6,407.6C364.3,410.1 365.9,413.6 368.2,414.6C370.5,415.7 374.9,415.4 376.5,413.9C378.1,412.4 378.9,407.4 377.8,405.5C376.7,403.6 372.2,401.7 370.0,402.3C367.8,402.9 366.0,406.4 364.8,409.0C363.6,411.6 363.4,414.9 362.7,417.8C362.0,420.7 362.3,424.5 360.7,426.6C359.1,428.7 355.3,430.8 353.2,430.3C351.1,429.8 348.6,426.4 347.9,423.8C347.2,421.2 348.5,417.8 348.8,414.8C349.1,411.8 349.5,408.9 349.8,405.9C350.1,402.9 350.4,399.9 350.7,396.9C351.0,393.9 351.5,391.0 351.8,388.0C352.1,385.0 352.4,382.0 352.7,379.0C353.0,376.0 353.3,373.0 353.8,370.1C354.3,367.2 355.0,364.2 355.9,361.4C356.8,358.6 358.0,355.8 359.4,353.1C360.8,350.4 362.1,347.6 364.0,345.4C365.9,343.1 369.1,341.9 370.6,339.6C372.1,337.3 372.9,334.3 372.8,331.5C372.7,328.7 371.1,325.7 370.2,322.8C369.3,319.9 368.5,317.1 367.7,314.2C366.9,311.3 366.0,308.5 365.1,305.6C364.2,302.7 363.4,299.9 362.5,297.0C361.6,294.1 360.9,291.2 360.0,288.3C359.1,285.4 358.3,282.6 357.4,279.7C356.5,276.8 355.7,274.0 354.8,271.1C353.9,268.2 353.1,265.4 352.2,262.5C351.3,259.6 350.5,256.8 349.6,253.9C348.7,251.0 347.8,248.1 347.0,245.2C346.2,242.3 345.5,239.4 344.7,236.5C343.9,233.6 342.9,230.7 342.4,227.8C341.9,224.9 341.8,221.9 341.6,218.9C341.4,215.9 341.4,212.9 341.3,209.9C341.2,206.9 341.1,203.9 341.0,200.9C340.9,197.9 340.9,194.9 340.8,191.9C340.7,188.9 340.6,185.9 340.5,182.9C340.4,179.9 340.4,176.9 340.3,173.9C340.2,170.9 339.6,167.7 340.1,164.9C340.6,162.1 341.6,158.3 343.5,157.3C345.4,156.3 349.8,157.1 351.7,158.8C353.6,160.5 353.8,164.4 354.7,167.3C355.6,170.2 356.3,173.1 357.1,176.0C357.9,178.9 358.7,181.7 359.5,184.6C360.3,187.5 361.1,190.4 361.9,193.3C362.7,196.2 363.5,199.1 364.3,202.0C365.1,204.9 366.1,207.7 366.9,210.6C367.7,213.5 368.6,216.4 369.3,219.3C370.0,222.2 369.7,225.9 371.3,228.0C372.9,230.1 376.8,230.2 378.8,232.0C380.9,233.8 383.6,236.4 383.6,238.8C383.6,241.2 380.6,243.9 378.7,246.2C376.8,248.5 374.5,250.4 372.4,252.5C370.3,254.6 368.1,256.9 366.0,259.0C363.9,261.1 361.8,263.2 359.7,265.3C357.6,267.4 355.5,269.7 353.4,271.8C351.3,273.9 349.5,276.6 347.1,278.2C344.7,279.8 341.2,281.8 339.2,281.1C337.1,280.4 334.5,276.1 334.8,274.0C335.1,271.9 338.7,268.4 340.9,268.2C343.1,268.0 346.3,270.6 347.9,272.8C349.5,275.0 349.8,278.5 350.7,281.4C351.6,284.2 352.6,287.0 353.5,289.9C354.4,292.8 355.4,295.6 356.4,298.5C357.4,301.4 358.4,304.2 359.3,307.0C360.2,309.8 361.2,312.6 362.1,315.5C363.1,318.4 364.1,321.2 365.0,324.1C365.9,327.0 367.0,329.7 367.8,332.6C368.6,335.5 369.1,338.5 369.7,341.4C370.3,344.3 371.0,347.2 371.4,350.2C371.8,353.1 372.2,356.1 372.2,359.1C372.2,362.1 371.7,365.1 371.4,368.1C371.1,371.1 370.8,374.1 370.5,377.1C370.2,380.1 370.0,383.0 369.7,386.0C369.4,389.0 369.1,392.0 368.9,395.0C368.7,398.0 368.5,401.0 368.3,404.0C368.1,407.0 367.9,409.9 367.7,412.9C367.5,415.9 367.5,419.0 367.1,421.9C366.7,424.8 366.9,428.9 365.2,430.5C363.5,432.1 358.8,432.9 356.9,431.8C355.0,430.7 354.2,426.8 353.9,424.0C353.5,421.2 354.5,418.0 354.8,415.0C355.1,412.0 355.4,409.1 355.7,406.1C356.0,403.1 356.2,400.1 356.5,397.1C356.8,394.1 357.0,391.1 357.3,388.1C357.6,385.1 357.8,382.2 358.1,379.2C358.4,376.2 358.6,373.2 358.9,370.2C359.2,367.2 359.4,364.2 359.7,361.2C360.0,358.2 360.2,355.3 360.5,352.3C360.8,349.3 361.1,346.3 361.4,343.3C361.7,340.3 361.9,337.4 362.2,334.4C362.5,331.4 362.7,328.4 363.0,325.4C363.3,322.4 363.6,319.4 363.9,316.4C364.2,313.4 364.5,310.5 364.8,307.5C365.1,304.5 365.4,301.5 365.7,298.5C366.0,295.5 366.3,292.6 366.6,289.6C366.9,286.6 367.3,283.6 367.6,280.6C367.9,277.6 368.3,274.7 368.6,271.7C368.9,268.7 369.3,265.7 369.6,262.7C369.9,259.7 370.1,256.8 370.4,253.8C370.7,250.8 371.0,247.8 371.3,244.8C371.6,241.8 372.4,238.9 372.3,235.9C372.2,232.9 371.1,230.0 370.5,227.1C369.9,224.2 369.3,221.2 368.7,218.3C368.1,215.4 367.4,212.4 366.8,209.5C366.2,206.6 365.7,203.5 365.1,200.6C364.5,197.7 363.9,194.7 363.3,191.8C362.7,188.9 362.1,185.9 361.5,183.0C360.9,180.1 360.3,177.1 359.7,174.2C359.1,171.3 358.4,168.3 357.8,165.4C357.2,162.5 356.5,159.5 355.9,156.6C355.3,153.7 354.8,150.7 354.1,147.8C353.4,144.9 352.6,141.9 351.6,139.1C350.6,136.3 349.6,133.4 348.0,130.9C346.4,128.4 344.5,124.9 342.2,124.3C339.9,123.7 335.7,125.3 334.4,127.3C333.1,129.3 334.2,133.2 334.6,136.1C335.0,139.0 336.0,142.0 336.9,144.8C337.8,147.7 338.9,150.4 340.0,153.2C341.1,156.0 342.1,158.8 343.2,161.6C344.2,164.4 345.3,167.3 346.3,170.1C347.3,172.9 348.3,175.7 349.4,178.5C350.4,181.3 351.5,184.1 352.6,186.9C353.7,189.7 354.8,192.6 355.8,195.4C356.9,198.2 357.9,201.0 358.9,203.8C359.9,206.6 360.9,209.4 362.0,212.2C363.1,215.0 364.2,217.9 365.2,220.7C366.2,223.5 367.4,226.3 368.2,229.1C369.0,231.9 370.0,234.8 370.2,237.7C370.4,240.6 369.4,243.6 369.1,246.6C368.8,249.6 368.5,252.6 368.2,255.6C367.9,258.6 367.5,261.5 367.2,264.5C366.9,267.5 366.5,270.5 366.2,273.5C365.9,276.5 365.6,279.4 365.3,282.4C365.0,285.4 364.6,288.4 364.3,291.4C364.0,294.4 363.7,297.3 363.4,300.3C363.1,303.3 362.8,306.3 362.4,309.3C362.0,312.3 361.7,315.2 361.3,318.2C360.9,321.2 360.5,324.1 360.2,327.1C359.9,330.1 359.6,333.1 359.5,336.1C359.4,339.1 359.5,342.1 359.8,345.1C360.1,348.1 360.7,351.0 361.5,353.9C362.3,356.8 364.2,360.9 364.7,362.3" fill="none" stroke="#1f77b4" stroke-opacity="0.1" stroke-width="4.4" stroke-linejoin="round" stroke-linecap="round"/>
<path d="M353.3,429.4C353.7,431.3 354.6,437.4 355.7,440.6C356.8,443.8 358.0,446.8 359.7,448.7C361.4,450.6 363.6,452.4 366.1,451.9C368.6,451.3 372.3,448.3 374.9,445.4C377.4,442.4 379.9,438.7 381.4,434.2C382.9,429.7 383.4,423.5 383.8,418.2C384.2,412.9 383.7,406.7 383.8,402.1C383.9,397.6 383.9,394.1 384.6,390.9C385.3,387.7 387.0,386.3 387.8,382.8C388.6,379.3 389.1,373.5 389.7,370.0C390.3,366.5 390.6,365.0 391.4,361.7C392.2,358.4 394.3,353.3 394.6,350.4C394.9,347.4 393.9,347.2 393.0,344.0C392.1,340.8 390.1,335.6 389.0,331.0C387.9,326.4 387.2,322.0 386.5,316.7C385.8,311.4 385.2,305.1 384.6,299.0C384.0,292.9 383.5,289.2 383.0,280.0C382.5,270.8 381.9,255.3 381.4,244.0C380.9,232.7 380.5,221.0 380.1,212.0C379.8,203.0 379.7,197.2 379.3,190.0C378.9,182.8 378.2,174.5 377.8,168.5C377.4,162.5 376.7,158.9 376.6,154.1C376.5,149.3 376.7,143.6 377.3,139.6C377.9,135.6 379.6,132.6 380.2,130.0C380.8,127.4 380.2,127.1 380.6,124.1C381.0,121.1 382.0,115.7 382.3,112.1C382.6,108.5 382.0,105.0 382.3,102.4C382.6,99.9 382.8,98.1 383.9,96.8C385.0,95.5 387.3,94.8 389.1,94.8C390.9,94.8 393.1,95.7 394.7,96.8C396.3,97.9 397.6,100.0 398.7,101.6C399.8,103.2 400.9,104.1 401.5,106.5C402.1,108.9 402.2,112.2 402.3,116.1C402.4,120.0 402.5,124.5 402.4,130.0C402.3,135.5 402.2,142.9 401.9,149.3C401.6,155.7 400.9,161.7 400.5,168.5C400.1,175.3 399.7,182.8 399.5,190.0C399.3,197.2 399.3,204.3 399.4,212.0C399.5,219.7 399.8,228.0 400.2,236.0C400.6,244.0 401.3,253.6 401.8,260.0C402.3,266.4 402.7,270.5 403.2,274.5C403.7,278.5 404.0,281.1 404.7,284.0C405.4,286.9 406.3,289.1 407.6,291.8C408.9,294.6 410.8,297.8 412.4,300.5C414.0,303.2 415.6,305.5 417.2,308.2C418.8,310.9 420.4,314.1 422.0,316.8C423.6,319.5 424.9,321.6 426.5,324.6C428.1,327.6 430.5,333.3 431.3,335.0" fill="none" stroke="#ff7f0e" stroke-width="4.4" stroke-linejoin="round" stroke-linecap="round"/>
<path d="M426.3,332.6C426.7,323.8 428.4,297.1 428.7,280.0C429.0,262.9 428.4,246.7 428.3,230.0C428.2,213.3 428.1,190.8 427.9,180.0C427.7,169.2 427.1,172.3 427.0,165.0C426.9,157.7 427.4,144.3 427.6,136.3C427.8,128.3 428.6,121.4 428.3,117.1C428.0,112.8 426.2,113.5 425.7,110.7C425.1,107.9 424.6,103.4 425.0,100.4C425.4,97.4 426.9,94.1 428.3,92.7C429.7,91.3 431.7,91.4 433.4,92.1C435.1,92.8 437.1,94.6 438.5,96.6C439.9,98.6 440.9,100.9 441.7,104.3C442.4,107.7 442.9,111.8 443.0,117.1C443.1,122.4 442.6,128.3 442.4,136.3C442.2,144.3 442.1,157.7 441.7,165.0C441.3,172.3 440.6,169.2 439.9,180.0C439.2,190.8 438.4,213.7 437.5,230.0C436.6,246.3 435.1,267.7 434.3,278.0C433.5,288.3 432.9,287.5 432.5,292.0C432.1,296.5 431.6,301.7 431.8,305.0C432.0,308.3 429.5,309.8 433.6,312.0C437.8,314.2 452.7,314.8 456.7,318.0C460.7,321.2 457.1,331.2 457.4,331.0C457.7,330.8 458.1,325.8 458.4,317.0C458.7,308.2 459.3,290.8 459.2,278.0C459.1,265.2 457.8,251.3 457.8,240.0C457.8,228.7 458.5,218.3 459.0,210.0C459.5,201.7 460.2,196.7 460.6,190.0C461.0,183.3 461.4,176.7 461.5,170.0C461.6,163.3 460.8,155.2 461.0,150.0C461.2,144.8 461.9,140.9 462.9,139.0C463.9,137.1 465.1,137.9 466.8,138.3C468.5,138.7 471.3,139.7 473.2,141.5C475.1,143.3 476.8,146.2 478.3,149.2C479.8,152.2 481.2,156.0 482.2,159.5C483.1,163.0 483.3,163.2 484.0,170.0C484.7,176.8 485.8,186.7 486.5,200.0C487.2,213.3 487.6,236.7 488.0,250.0C488.4,263.3 488.2,268.3 488.9,280.0C489.6,291.7 491.4,301.7 492.4,320.0C493.4,338.3 494.2,375.1 494.7,390.0C495.2,404.9 494.8,403.9 495.3,409.3C495.8,414.7 497.4,416.8 497.9,422.1C498.4,427.4 498.2,436.4 498.5,441.3C498.8,446.2 498.7,449.7 499.8,451.6C500.9,453.5 503.2,452.9 504.9,452.9C506.6,452.9 508.6,452.9 510.1,451.6C511.6,450.3 512.7,447.3 513.9,445.2C515.1,443.1 516.4,442.6 517.1,438.8C517.9,435.0 517.9,428.1 518.4,422.1C518.9,416.1 519.8,408.2 520.3,402.8C520.8,397.4 521.3,397.1 521.3,390.0C521.3,382.9 520.5,371.7 520.5,360.0C520.5,348.3 521.5,333.3 521.3,320.0C521.0,306.7 519.6,291.7 519.0,280.0C518.4,268.3 518.1,260.0 517.8,250.0C517.5,240.0 517.3,228.3 517.1,220.0C516.9,211.7 516.9,207.5 516.5,200.0C516.1,192.5 515.5,182.5 514.8,175.0C514.1,167.5 512.7,159.8 512.5,155.0C512.3,150.2 512.6,148.1 513.5,146.0C514.4,143.9 516.1,142.9 517.6,142.4C519.1,141.9 521.2,142.1 522.5,143.0C523.8,143.9 524.9,144.9 525.5,148.0C526.1,151.1 526.0,154.3 526.2,161.3C526.4,168.3 526.4,180.2 526.6,190.0C526.8,199.8 527.2,208.3 527.4,220.0C527.5,231.7 527.7,246.7 527.5,260.0C527.3,273.3 526.6,293.3 526.4,300.0" fill="none" stroke="#ff7f0e" stroke-width="4.6" stroke-linejoin="round" stroke-linecap="round" stroke-opacity="0.5"/>
<path d="M317.6,332.0C316.8,333.3 314.0,337.6 312.8,340.0C311.6,342.4 310.8,343.9 310.4,346.5C310.0,349.1 310.0,353.1 310.4,355.3C310.8,357.5 311.2,358.8 312.8,359.7C314.4,360.6 317.2,360.9 320.0,361.0C322.8,361.1 326.8,361.3 329.7,360.5C332.6,359.7 334.8,357.9 337.2,356.3C339.6,354.8 342.2,353.0 344.4,351.2C346.6,349.4 348.4,347.7 350.2,345.3C352.0,342.9 353.6,339.1 355.3,336.8C357.0,334.5 358.5,333.1 360.3,331.6C362.1,330.1 364.2,329.2 366.1,328.0C368.1,326.8 370.4,325.8 372.0,324.5C373.6,323.2 374.2,321.4 376.0,320.0C377.8,318.6 380.3,317.4 382.5,316.0C384.7,314.6 387.2,314.2 389.3,311.8C391.4,309.4 392.9,305.4 395.0,301.6C397.1,297.8 399.6,293.2 401.8,289.0C404.1,284.8 406.2,280.4 408.5,276.6C410.8,272.9 413.2,269.5 415.3,266.5C417.4,263.5 419.2,261.1 421.0,258.5C422.8,255.9 422.4,256.5 425.9,251.2C429.3,245.9 436.6,233.6 441.7,226.5C446.8,219.4 452.7,213.5 456.2,208.9C459.7,204.3 460.3,202.2 462.6,198.9C464.9,195.6 466.8,193.2 470.0,189.0C473.2,184.8 478.1,178.6 481.8,174.0C485.5,169.4 488.8,164.9 492.0,161.5C495.2,158.1 498.2,155.9 500.9,153.5C503.6,151.1 505.8,149.0 508.0,147.0C510.2,145.0 512.0,143.9 514.4,141.7C516.8,139.5 519.6,137.0 522.1,133.9C524.6,130.8 527.5,124.6 529.6,123.0C531.7,121.4 533.2,123.1 534.7,124.5C536.2,125.9 537.7,128.6 538.5,131.3C539.3,134.0 539.6,138.0 539.5,140.9C539.4,143.8 538.7,146.7 537.6,148.6C536.5,150.5 534.4,151.4 532.8,152.5C531.2,153.6 528.8,154.6 528.0,155.0" fill="none" stroke="#2ca02c" stroke-width="4.4" stroke-linejoin="round" stroke-linecap="round"/>
<path d="M433.5,286.0C433.9,284.3 434.1,280.3 436.0,276.0C437.9,271.7 441.0,266.4 444.9,260.3C448.8,254.2 454.6,246.1 459.4,239.4C464.2,232.7 469.2,225.7 473.8,220.1C478.4,214.5 482.3,210.8 486.7,205.7C491.1,200.6 495.3,195.5 500.0,189.6C504.7,183.7 510.5,176.1 515.0,170.0C519.5,163.9 525.0,155.8 527.0,153.0" fill="none" stroke="#2ca02c" stroke-width="4.4" stroke-linejoin="round" stroke-linecap="round"/>
<path d="M427.3,332.6C427.7,323.8 429.4,297.1 429.7,280.0C430.0,262.9 429.4,246.7 429.3,230.0C429.2,213.3 429.1,190.8 428.9,180.0C428.7,169.2 428.1,172.3 428.0,165.0C427.9,157.7 428.4,144.3 428.6,136.3C428.8,128.3 429.6,121.4 429.3,117.1C429.0,112.8 427.2,113.5 426.7,110.7C426.1,107.9 425.6,103.4 426.0,100.4C426.4,97.4 427.9,94.1 429.3,92.7C430.7,91.3 432.7,91.4 434.4,92.1C436.1,92.8 438.1,94.6 439.5,96.6C440.9,98.6 441.9,100.9 442.7,104.3C443.4,107.7 443.9,111.8 444.0,117.1C444.1,122.4 443.6,128.3 443.4,136.3C443.2,144.3 443.1,157.7 442.7,165.0C442.3,172.3 441.6,169.2 440.9,180.0C440.2,190.8 439.4,213.7 438.5,230.0C437.6,246.3 436.1,267.7 435.3,278.0C434.5,288.3 433.9,287.5 433.5,292.0C433.1,296.5 432.6,301.7 432.8,305.0C433.0,308.3 430.5,309.8 434.6,312.0C438.8,314.2 453.7,314.8 457.7,318.0C461.7,321.2 458.1,331.2 458.4,331.0C458.7,330.8 459.1,325.8 459.4,317.0C459.7,308.2 460.3,290.8 460.2,278.0C460.1,265.2 458.8,251.3 458.8,240.0C458.8,228.7 459.5,218.3 460.0,210.0C460.5,201.7 461.2,196.7 461.6,190.0C462.0,183.3 462.4,176.7 462.5,170.0C462.6,163.3 461.8,155.2 462.0,150.0C462.2,144.8 462.9,140.9 463.9,139.0C464.9,137.1 466.1,137.9 467.8,138.3C469.5,138.7 472.3,139.7 474.2,141.5C476.1,143.3 477.8,146.2 479.3,149.2C480.8,152.2 482.2,156.0 483.2,159.5C484.1,163.0 484.3,163.2 485.0,170.0C485.7,176.8 486.8,186.7 487.5,200.0C488.2,213.3 488.6,236.7 489.0,250.0C489.4,263.3 489.2,268.3 489.9,280.0C490.6,291.7 492.4,301.7 493.4,320.0C494.4,338.3 495.2,375.1 495.7,390.0C496.2,404.9 495.8,403.9 496.3,409.3C496.8,414.7 498.4,416.8 498.9,422.1C499.4,427.4 499.2,436.4 499.5,441.3C499.8,446.2 499.7,449.7 500.8,451.6C501.9,453.5 504.2,452.9 505.9,452.9C507.6,452.9 509.6,452.9 511.1,451.6C512.6,450.3 513.7,447.3 514.9,445.2C516.1,443.1 517.4,442.6 518.1,438.8C518.9,435.0 518.9,428.1 519.4,422.1C519.9,416.1 520.8,408.2 521.3,402.8C521.8,397.4 522.3,397.1 522.3,390.0C522.3,382.9 521.5,371.7 521.5,360.0C521.5,348.3 522.5,333.3 522.3,320.0C522.0,306.7 520.6,291.7 520.0,280.0C519.4,268.3 519.1,260.0 518.8,250.0C518.5,240.0 518.3,228.3 518.1,220.0C517.9,211.7 517.9,207.5 517.5,200.0C517.1,192.5 516.5,182.5 515.8,175.0C515.1,167.5 513.7,159.8 513.5,155.0C513.3,150.2 513.6,148.1 514.5,146.0C515.4,143.9 517.1,142.9 518.6,142.4C520.1,141.9 522.2,142.1 523.5,143.0C524.8,143.9 525.9,144.9 526.5,148.0C527.1,151.1 527.0,154.3 527.2,161.3C527.4,168.3 527.4,180.2 527.6,190.0C527.8,199.8 528.2,208.3 528.4,220.0C528.5,231.7 528.7,246.7 528.5,260.0C528.3,273.3 527.6,293.3 527.4,300.0" fill="none" stroke="#2ca02c" stroke-width="4.4" stroke-linejoin="round" stroke-linecap="round"/>
</g>
<!-- spines -->
<rect x="184.5" y="73.3" width="614.7" height="405" fill="none" stroke="#000" stroke-width="2.4" stroke-linejoin="miter"/>
<!-- ticks -->
<g stroke="#000" stroke-width="2.4" stroke-linecap="butt">
<line x1="245.4" y1="478.3" x2="245.4" y2="488.5"/>
<line x1="416.6" y1="478.3" x2="416.6" y2="488.5"/>
<line x1="587.8" y1="478.3" x2="587.8" y2="488.5"/>
<line x1="758.9" y1="478.3" x2="758.9" y2="488.5"/>
<line x1="184.5" y1="461.7" x2="174.3" y2="461.7"/>
<line x1="184.5" y1="357.0" x2="174.3" y2="357.0"/>
<line x1="184.5" y1="252.4" x2="174.3" y2="252.4"/>
<line x1="184.5" y1="147.75" x2="174.3" y2="147.75"/>
</g>
<g font-size="47" text-anchor="middle">
<text x="245.4" y="530">10</text>
<text x="416.6" y="530">15</text>
<text x="587.8" y="530">20</text>
<text x="758.9" y="530">25</text>
</g>
<g font-size="47" text-anchor="end">
<text x="164" y="478">10.0</text>
<text x="164" y="373">12.5</text>
<text x="164" y="268.5">15.0</text>
<text x="164" y="164">17.5</text>
</g>
<text x="491.6" y="583" font-size="47" text-anchor="middle">x [m]</text>
<text transform="translate(62.8,277) rotate(-90)" font-size="47" text-anchor="middle">y [m]</text>
<text transform="translate(490.3,56) scale(0.95,1)" font-size="36.3" text-anchor="middle">Noise level 1</text>
<!-- legend -->
<rect x="531.3" y="87.5" width="253.2" height="90.3" rx="5" ry="5" fill="#fff" fill-opacity="0.8" stroke="#ccc" stroke-opacity="0.8" stroke-width="2.8"/>
<line x1="542.5" y1="109.4" x2="600.5" y2="109.4" stroke="#ff7f0e" stroke-width="4.4" stroke-linecap="square"/>
<line x1="542.5" y1="149.6" x2="600.5" y2="149.6" stroke="#2ca02c" stroke-width="4.4" stroke-linecap="square"/>
<text transform="translate(623.6,119.8) scale(0.98,1)" font-size="29.3">Ground truth</text>
<text transform="translate(623.8,160.2) scale(1.02,1)" font-size="29.3">Vel. est.</text>
</svg>
</body></html>
